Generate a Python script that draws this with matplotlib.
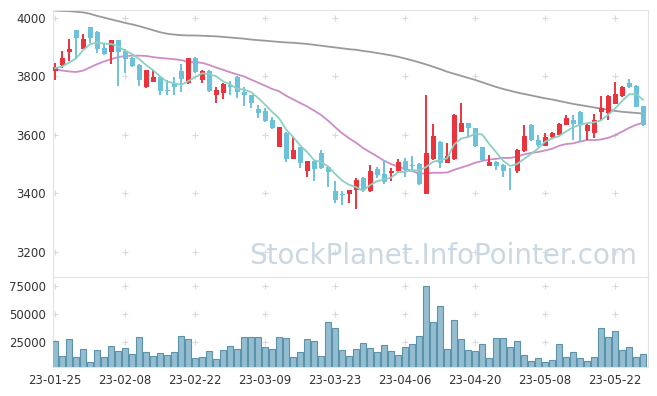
import matplotlib.pyplot as plt
import numpy as np
import pandas as pd

# daily candles, 85 trading days (23-01-25 .. 23-05-26)
open_ = [3820, 3839, 3884, 3959, 3895, 3969, 3952, 3897, 3885, 3925,
         3888, 3862, 3839, 3763, 3782, 3799, 3754, 3779, 3819, 3777,
         3863, 3787, 3819, 3736, 3743, 3770, 3798, 3745, 3736, 3689,
         3682, 3651, 3560, 3607, 3519, 3559, 3475, 3511, 3538, 3491,
         3409, 3398, 3399, 3413, 3452, 3409, 3484, 3466, 3471, 3475,
         3511, 3497, 3501, 3399, 3518, 3576, 3505, 3518, 3611, 3640,
         3623, 3559, 3495, 3509, 3497, 3478, 3475, 3545, 3634, 3583,
         3563, 3592, 3600, 3635, 3651, 3679, 3614, 3606, 3679, 3674,
         3706, 3733, 3778, 3768, 3699]
high = [3845, 3886, 3927, 3959, 3945, 3969, 3955, 3913, 3925, 3925,
        3895, 3866, 3842, 3822, 3822, 3800, 3788, 3799, 3842, 3863,
        3868, 3822, 3822, 3763, 3776, 3785, 3800, 3765, 3738, 3703,
        3691, 3660, 3626, 3610, 3592, 3560, 3512, 3512, 3548, 3493,
        3444, 3409, 3413, 3454, 3455, 3497, 3491, 3515, 3486, 3518,
        3521, 3528, 3503, 3737, 3637, 3578, 3572, 3672, 3708, 3641,
        3625, 3560, 3532, 3511, 3499, 3486, 3552, 3634, 3636, 3600,
        3606, 3610, 3640, 3668, 3668, 3680, 3636, 3672, 3733, 3735,
        3781, 3766, 3790, 3770, 3700]
low = [3786, 3828, 3851, 3862, 3895, 3913, 3881, 3874, 3843, 3768,
       3813, 3833, 3768, 3760, 3780, 3737, 3736, 3736, 3745, 3775,
       3812, 3777, 3748, 3708, 3722, 3736, 3725, 3699, 3691, 3657,
       3645, 3620, 3558, 3509, 3517, 3486, 3455, 3444, 3485, 3421,
       3366, 3360, 3366, 3346, 3405, 3405, 3453, 3431, 3444, 3472,
       3457, 3472, 3428, 3397, 3515, 3486, 3503, 3515, 3610, 3594,
       3560, 3508, 3494, 3480, 3457, 3412, 3470, 3543, 3578, 3560,
       3561, 3590, 3598, 3633, 3583, 3580, 3583, 3591, 3651, 3651,
       3704, 3730, 3762, 3695, 3632]
close = [3832, 3864, 3894, 3932, 3927, 3933, 3895, 3875, 3925, 3885,
         3861, 3837, 3789, 3822, 3798, 3751, 3750, 3765, 3790, 3863,
         3816, 3819, 3751, 3754, 3774, 3765, 3745, 3736, 3710, 3676,
         3649, 3622, 3626, 3518, 3549, 3505, 3511, 3484, 3487, 3474,
         3378, 3396, 3412, 3446, 3412, 3477, 3463, 3440, 3477, 3507,
         3480, 3494, 3432, 3538, 3597, 3505, 3528, 3668, 3640, 3622,
         3563, 3515, 3509, 3495, 3475, 3475, 3549, 3597, 3581, 3565,
         3592, 3605, 3638, 3658, 3638, 3634, 3634, 3651, 3692, 3733,
         3740, 3764, 3765, 3697, 3634]
volume = [25600, 12200, 27100, 11000, 18200, 6800, 17300, 11000, 20800, 16400,
          19000, 13700, 28900, 15500, 11900, 14600, 12800, 15500, 29800, 27100,
          10100, 11000, 16400, 9200, 17300, 20800, 18200, 28900, 28900, 28900,
          19900, 18200, 28900, 28000, 11000, 15500, 27100, 25300, 12200, 42300,
          36900, 17600, 12200, 18500, 23800, 19300, 15800, 21700, 16700, 13100,
          20200, 22900, 30100, 74700, 42300, 56800, 18500, 44300, 27400, 17600,
          16700, 22900, 10400, 28300, 28300, 20200, 25600, 13100, 7700, 10400,
          6800, 8600, 22900, 11300, 15800, 10400, 7700, 11300, 37200, 29200,
          34500, 17600, 20200, 11300, 14000]

# moving-average values before enough history is in view
ma5_head = [3828, 3834, 3847, 3862]
ma20_head = [3825, 3820, 3817, 3815, 3820, 3831, 3842, 3851, 3859, 3866,
             3870, 3871, 3871, 3870, 3866, 3863, 3861, 3859, 3856]
# long moving average (gray)
ma_long = [4025, 4024, 4023, 4021, 4019, 4014, 4007, 4001, 3995, 3989,
           3983, 3978, 3972, 3965, 3958, 3951, 3946, 3943, 3941, 3940,
           3940, 3939, 3938, 3937, 3935, 3933, 3931, 3929, 3926, 3924,
           3922, 3920, 3918, 3916, 3915, 3913, 3911, 3908, 3905, 3902,
           3899, 3896, 3893, 3891, 3887, 3884, 3880, 3876, 3872, 3867,
           3861, 3855, 3848, 3841, 3833, 3825, 3816, 3809, 3802, 3795,
           3788, 3780, 3772, 3764, 3757, 3751, 3745, 3740, 3735, 3730,
           3725, 3721, 3716, 3711, 3706, 3702, 3698, 3694, 3690, 3686,
           3682, 3679, 3677, 3675, 3673]

tick_labels = ['23-01-25', '23-02-08', '23-02-22', '23-03-09', '23-03-23',
               '23-04-06', '23-04-20', '23-05-08', '23-05-22']
price_ticks = [3200, 3400, 3600, 3800, 4000]
vol_ticks = [25000, 50000, 75000]

o = np.array(open_)
h = np.array(high)
l = np.array(low)
c = np.array(close)
x = np.arange(len(c))

cs = pd.Series(c, dtype=float)
ma5 = cs.rolling(5).mean().to_numpy()
ma5[:len(ma5_head)] = ma5_head
ma20 = cs.rolling(20).mean().to_numpy()
ma20[:len(ma20_head)] = ma20_head

UP = '#ea343d'
DOWN = '#6cc2da'
SPINE = '#e3e3e3'
TXT = '#333333'

fig = plt.figure(figsize=(6.57, 3.96), dpi=100)
ax = fig.add_axes([0.0807, 0.2997, 0.9056, 0.675])
axv = fig.add_axes([0.0807, 0.0725, 0.9056, 0.2272], sharex=ax)

up = c >= o
cols = np.where(up, UP, DOWN)
body_lo = np.minimum(o, c)
body_h = np.maximum(np.abs(c - o), 2)

ax.vlines(x, l, h, colors=cols, linewidth=1.4, zorder=3)
ax.bar(x, body_h, bottom=body_lo, width=0.72, color=cols, linewidth=0, zorder=4)

ax.plot(x, ma_long, color='#9a9a9a', lw=1.3, zorder=2)
ax.plot(x, ma20, color='#cc8cc6', lw=1.3, zorder=2)
ax.plot(x, ma5, color='#8dcfc3', lw=1.3, zorder=5)

ax.text(0.655, 0.08, 'StockPlanet.InfoPointer.com', transform=ax.transAxes,
        ha='center', va='center', fontsize=20, color='#c9d8e2', zorder=1)

axv.bar(x, volume, width=0.95, color='#95bdd0', edgecolor='#5b93ad',
        linewidth=0.8, zorder=3)

xt = np.arange(0, len(c), 10)
for a, yt in ((ax, price_ticks), (axv, vol_ticks)):
    gx, gy = np.meshgrid(xt, yt)
    a.scatter(gx.ravel(), gy.ravel(), marker='+', s=22, color='#dadada',
              linewidths=0.8, zorder=0)
    for s in a.spines.values():
        s.set_color(SPINE)
    a.tick_params(length=0, labelsize=8.5, colors=TXT, pad=5)
    a.set_yticks(yt)

ax.set_xlim(-0.3, 84.7)
ax.set_ylim(3113, 4027)
axv.set_ylim(2100, 82500)
axv.set_xticks(xt)
axv.set_xticklabels(tick_labels)
ax.tick_params(labelbottom=False)

fig.savefig('out.png', dpi=100)
